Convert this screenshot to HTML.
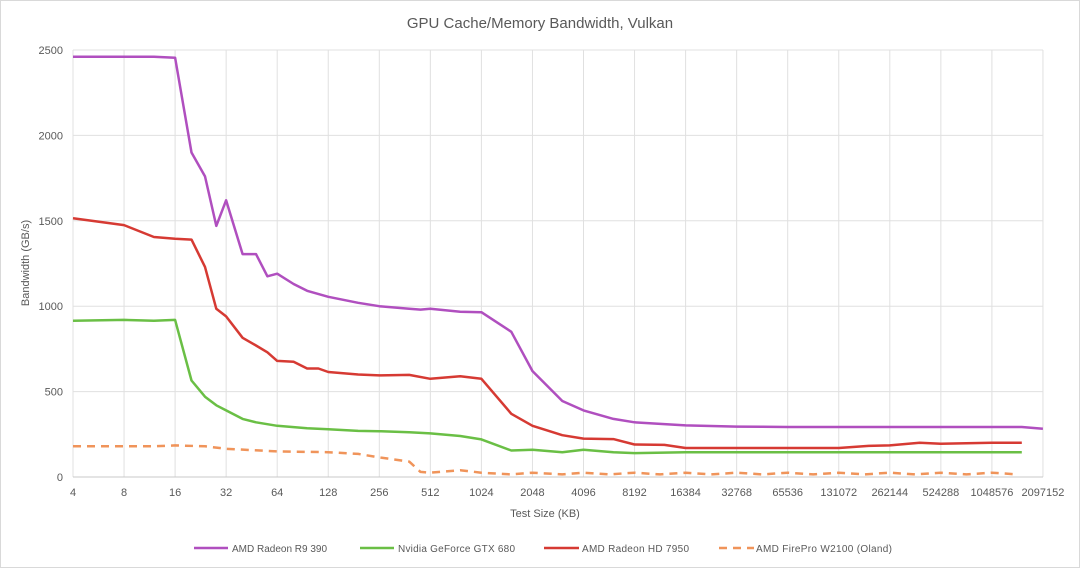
<!DOCTYPE html>
<html><head><meta charset="utf-8"><style>
body{margin:0;background:#fff}
svg{display:block;font-family:"Liberation Sans",sans-serif}
</style></head><body>
<svg id="s" width="1080" height="568" viewBox="0 0 1080 568" xmlns="http://www.w3.org/2000/svg">
<rect x="0.5" y="0.5" width="1079" height="567" fill="#fff" stroke="#d9d9d9"/>
<text x="540" y="28" text-anchor="middle" font-size="15" fill="#595959">GPU Cache/Memory Bandwidth, Vulkan</text>
<g id="grid" stroke="#e0e0e0" stroke-width="1"></g>
<g id="lbl" font-size="11" fill="#595959"></g>
<text x="545" y="517" text-anchor="middle" font-size="11" fill="#595959">Test Size (KB)</text>
<text transform="translate(29,263) rotate(-90)" text-anchor="middle" font-size="11" fill="#595959">Bandwidth (GB/s)</text>
<g id="ser" fill="none" stroke-width="2.5" stroke-linejoin="round"></g>
<g font-size="10" fill="#595959">
<line x1="194" y1="548" x2="228" y2="548" stroke="#b04fbf" stroke-width="2.5"/><text x="232" y="552">AMD Radeon R9 390</text>
<line x1="360" y1="548" x2="394" y2="548" stroke="#6abf45" stroke-width="2.5"/><text x="398" y="552" textLength="117">Nvidia GeForce GTX 680</text>
<line x1="544" y1="548" x2="579" y2="548" stroke="#d63a33" stroke-width="2.5"/><text x="582" y="552" textLength="107">AMD Radeon HD 7950</text>
<line x1="719" y1="548" x2="754" y2="548" stroke="#f0945a" stroke-width="2.5" stroke-dasharray="8,6"/><text x="756" y="552" textLength="136">AMD FirePro W2100 (Oland)</text>
</g>
</svg>
<script>
var NS="http://www.w3.org/2000/svg";
function el(p,t,a,txt){var e=document.createElementNS(NS,t);for(var k in a)e.setAttribute(k,a[k]);if(txt!=null)e.textContent=txt;document.getElementById(p).appendChild(e);}
var X0=73,DX=51.05,Y0=477,YS=427/2500;
function X(kb){return X0+(Math.log2(kb)-2)*DX;}
function Y(v){return Y0-v*YS;}
for(var i=0;i<20;i++){var x=X0+i*DX;el("grid","line",{x1:x,y1:50,x2:x,y2:Y0});el("lbl","text",{x:x,y:496,"text-anchor":"middle"},String(Math.pow(2,i+2)));}
for(var v=0;v<=2500;v+=500){var y=Y(v);el("grid","line",{x1:X0,y1:y,x2:1043,y2:y,stroke:v==0?"#c8c8c8":"#e0e0e0"});el("lbl","text",{x:63,y:y+4,"text-anchor":"end"},String(v));}
function path(d,c,dash){var s="";d.forEach(function(p,i){s+=(i?"L":"M")+X(p[0]).toFixed(1)+","+Y(p[1]).toFixed(1);});var a={d:s,stroke:c};if(dash)a["stroke-dasharray"]=dash;el("ser","path",a);}
var K=1024,M=1048576;
path([[4,2460],[8,2460],[12,2460],[16,2455],[20,1900],[24,1760],[28,1470],[32,1620],[40,1305],[48,1305],[56,1175],[64,1190],[80,1130],[96,1090],[128,1055],[192,1020],[256,1000],[384,985],[448,980],[512,985],[768,968],[1024,965],[1536,850],[2048,620],[3072,445],[4096,390],[6144,340],[8192,320],[12288,310],[16384,302],[32*K,295],[64*K,293],[128*K,293],[256*K,293],[512*K,293],[M,293],[1.5*M,293],[2*M,283]],"#b04fbf");
path([[4,915],[8,920],[12,915],[16,920],[20,565],[24,470],[28,420],[32,390],[40,340],[48,320],[64,300],[96,285],[128,280],[192,270],[256,268],[384,262],[512,255],[768,240],[1024,220],[1536,155],[2048,160],[3072,145],[4096,160],[6144,145],[8192,140],[16384,145],[64*K,145],[256*K,145],[M,145],[1.5*M,145]],"#6abf45");
path([[4,1515],[8,1475],[12,1405],[16,1395],[20,1390],[24,1230],[28,985],[32,940],[40,815],[48,770],[56,730],[64,680],[80,675],[96,635],[112,635],[128,615],[192,600],[256,595],[384,598],[512,575],[768,590],[1024,575],[1536,370],[2048,300],[3072,245],[4096,225],[6144,222],[8192,190],[12288,188],[16384,170],[32*K,170],[64*K,170],[128*K,170],[192*K,182],[256*K,185],[384*K,200],[512*K,195],[M,200],[1.5*M,200]],"#d63a33");
var o=[[4,180],[12,180],[16,185],[24,180],[32,165],[64,150],[128,145],[192,135],[256,115],[384,90],[448,30],[512,25],[768,40],[1024,25],[1536,15],[2048,25],[3072,15]];
var kb=4096,t=0;while(kb<=1.5*M){o.push([kb,t%2?15:25]);kb*=Math.SQRT2;t++;}
path(o,"#f0945a","8,6");
</script>
</body></html>
